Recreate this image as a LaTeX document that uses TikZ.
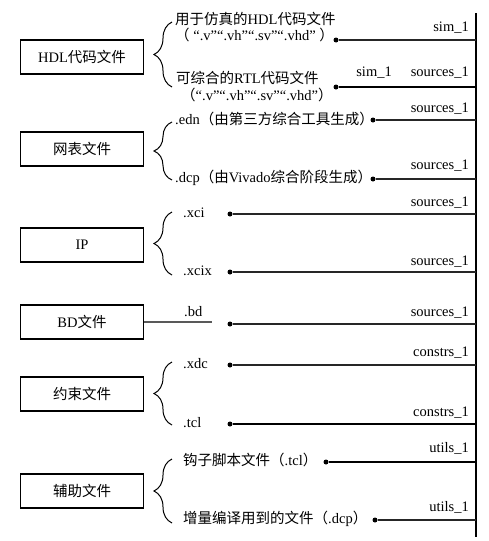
\documentclass[tikz,border=0pt]{standalone}
\usepackage{fontspec}
\setmainfont{Liberation Serif}
\newfontfamily\cjk{Noto Sans CJK SC}
\newcommand\zh[1]{{\cjk #1}}
\usetikzlibrary{decorations.pathreplacing,positioning}

\begin{document}
\begin{tikzpicture}[x=1pt, y=-1pt,
  every node/.style={font=\fontsize{14.5pt}{17pt}\selectfont},
  filebox/.style={draw, line width=1.6pt, minimum width=123pt, minimum height=34pt, inner sep=0pt},
  txt/.style={anchor=west, inner sep=0pt, text height=11pt, text depth=3pt},
  lbl/.style={anchor=east, inner sep=0pt, text height=11pt, text depth=3pt},
  pin/.style={circle, fill, inner sep=0pt, minimum size=5pt},
  link/.style={line width=1.1pt, black!85},
  boldlink/.style={line width=1.8pt, black},
  grp/.style={decorate, decoration={brace, amplitude=18pt}, line width=1pt}]
  \useasboundingbox (0,0) rectangle (489,541);
  \coordinate (bustop) at (476,13);
  \coordinate (busbot) at (476,537);
  \draw [line width=1.2pt] (bustop) -- (busbot);

  \node [filebox] (hdl) at (82,57) {HDL\zh{代码文件}};
  \node [filebox] (net) at (82,149) {\zh{网表文件}};
  \node [filebox] (ip) at (82,245) {IP};
  \node [filebox] (bd) at (82,322) {BD\zh{文件}};
  \node [filebox] (xdc) at (82,394) {\zh{约束文件}};
  \node [filebox] (util) at (82,491) {\zh{辅助文件}};

  \draw [grp] (172,87) -- (172,22);
  \draw [grp] (172,180) -- (172,122);
  \draw [grp] (172,275) -- (172,212);
  \draw [grp] (172,425) -- (172,362);
  \draw [grp] (172,523) -- (172,459);

  % HDL
  \node [txt] (simsrc) at (175,20) {\zh{用于仿真的}HDL\zh{代码文件}};
  \node [txt] (simext) at (175,36) {\zh{（} “.v”“.vh”“.sv”“.vhd” \zh{）}};
  \node [pin] (p1) at (336,40) {};
  \draw [link] (p1) -- (p1 -| bustop);
  \node [lbl] (l1) at (469,27) {sim\_1};
  \node [txt] (rtlsrc) at (176,79) {\zh{可综合的}RTL\zh{代码文件}};
  \node [txt] (rtlext) at (181,96) {\zh{（}“.v”“.vh”“.sv”“.vhd”\zh{）}};
  \node [pin] (p2) at (336,87) {};
  \draw [boldlink] (p2) -- (p2 -| bustop);
  \node [lbl] (l2a) at (392,72) {sim\_1};
  \node [lbl] (l2b) at (469,72) {sources\_1};

  % netlist
  \node [txt] (edn) at (175,120) {.edn\zh{（由第三方综合工具生成）}};
  \node [pin] (p3) at (373,120) {};
  \draw [link] (p3) -- (p3 -| bustop);
  \node [lbl] (l3) at (469,108) {sources\_1};
  \node [txt] (dcp) at (175,178) {.dcp\zh{（由}Vivado\zh{综合阶段生成）}};
  \node [pin] (p4) at (373,179) {};
  \draw [link] (p4) -- (p4 -| bustop);
  \node [lbl] (l4) at (469,165) {sources\_1};

  % IP
  \node [txt] (xci) at (183,213) {.xci};
  \node [pin] (p5) at (230,214) {};
  \draw [link] (p5) -- (p5 -| bustop);
  \node [lbl] (l5) at (469,202) {sources\_1};
  \node [txt] (xcix) at (183,271) {.xcix};
  \node [pin] (p6) at (230,272) {};
  \draw [link] (p6) -- (p6 -| bustop);
  \node [lbl] (l6) at (469,261) {sources\_1};

  % BD
  \coordinate (bdend) at (212,322);
  \draw [link, black!65] (bd.east) -- (bdend);
  \node [txt] (bdf) at (184,312) {.bd};
  \node [pin] (p7) at (230,324) {};
  \draw [link] (p7) -- (p7 -| bustop);
  \node [lbl] (l7) at (469,312) {sources\_1};

  % constraints
  \node [txt] (xdcf) at (183,364) {.xdc};
  \node [pin] (p8) at (230,365) {};
  \draw [link] (p8) -- (p8 -| bustop);
  \node [lbl] (l8) at (469,352) {constrs\_1};
  \node [txt] (tcl) at (183,423) {.tcl};
  \node [pin] (p9) at (230,424) {};
  \draw [boldlink] (p9) -- (p9 -| bustop);
  \node [lbl] (l9) at (469,412) {constrs\_1};

  % utils
  \node [txt] (hook) at (183,461) {\zh{钩子脚本文件（}.tcl\zh{）}};
  \node [pin] (p10) at (326,462) {};
  \draw [boldlink] (p10) -- (p10 -| bustop);
  \node [lbl] (l10) at (469,448) {utils\_1};
  \node [txt] (incr) at (183,519) {\zh{增量编译用到的文件（}.dcp\zh{）}};
  \node [pin] (p11) at (375,520) {};
  \draw [link] (p11) -- (p11 -| bustop);
  \node [lbl] (l11) at (469,507) {utils\_1};
\end{tikzpicture}
\end{document}
